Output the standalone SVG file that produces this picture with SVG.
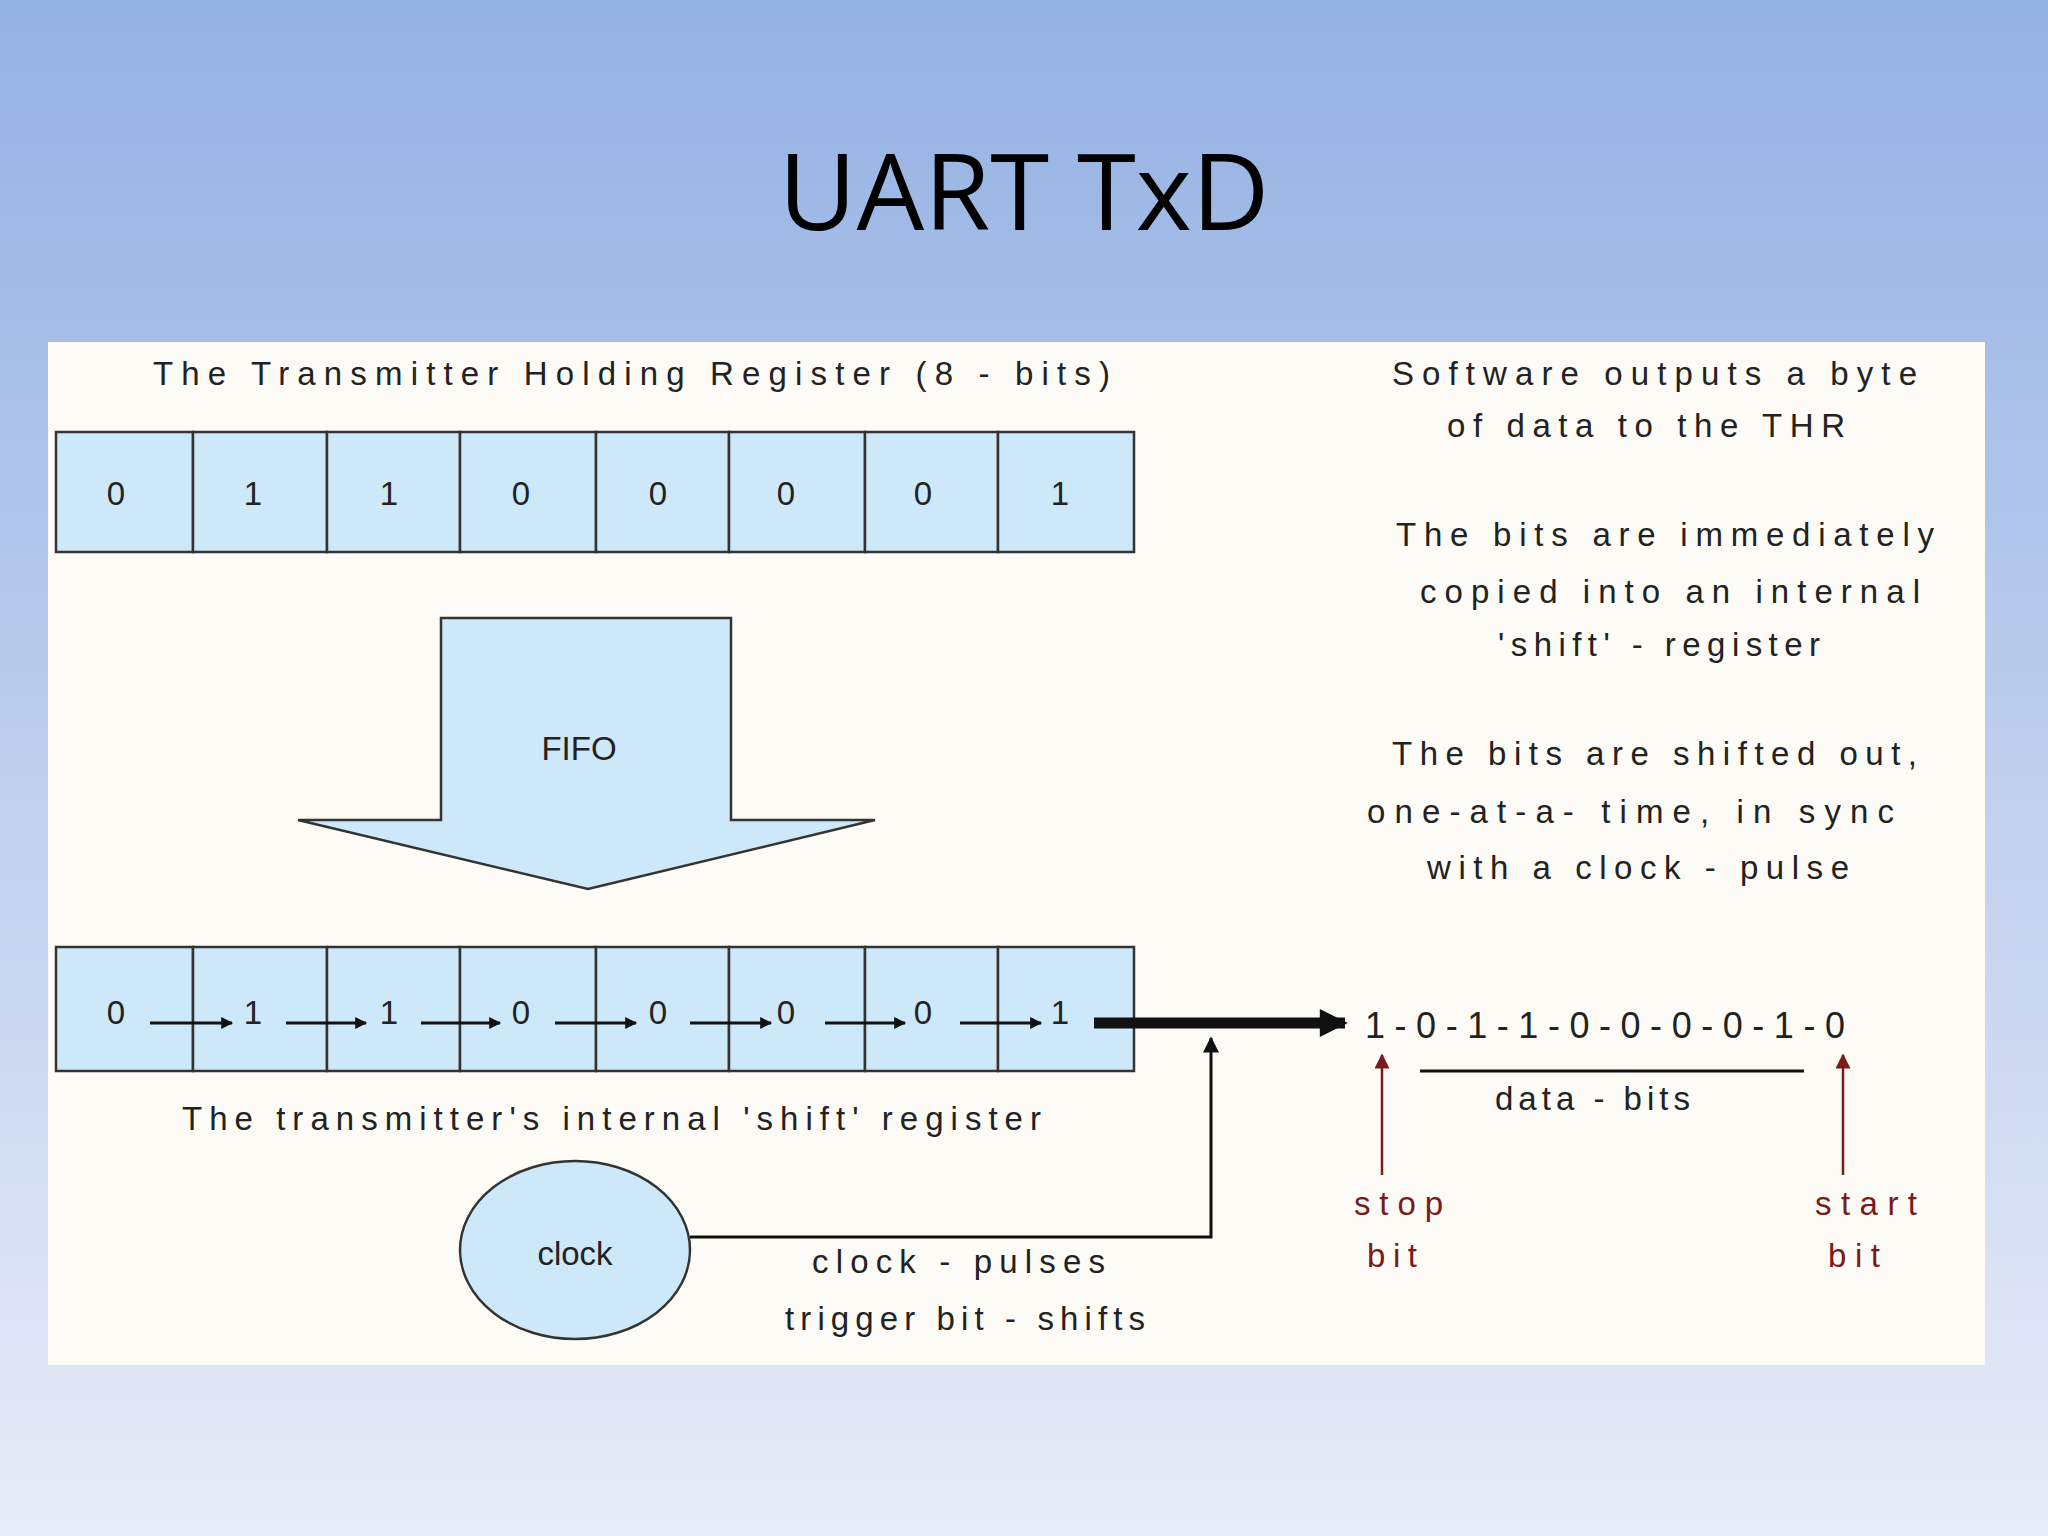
<svg xmlns="http://www.w3.org/2000/svg" width="2048" height="1536" viewBox="0 0 2048 1536">
<defs>
<linearGradient id="bg" x1="0" y1="0" x2="0" y2="1"><stop offset="0" stop-color="#94b1e3"/><stop offset="1" stop-color="#e8ecf8"/></linearGradient>
<marker id="ahs" viewBox="0 0 10 10" refX="9" refY="5" markerWidth="16" markerHeight="12" orient="auto" markerUnits="userSpaceOnUse"><path d="M0,0 L10,5 L0,10 z" fill="#111"/></marker>
<marker id="ahc" viewBox="0 0 10 10" refX="9" refY="5" markerWidth="22" markerHeight="16" orient="auto" markerUnits="userSpaceOnUse"><path d="M0,0 L10,5 L0,10 z" fill="#111"/></marker>
<marker id="ahb" viewBox="0 0 10 10" refX="9" refY="5" markerWidth="30" markerHeight="28" orient="auto" markerUnits="userSpaceOnUse"><path d="M0,0 L10,5 L0,10 z" fill="#111"/></marker>
<marker id="ahr" viewBox="0 0 10 10" refX="9" refY="5" markerWidth="20" markerHeight="15" orient="auto" markerUnits="userSpaceOnUse"><path d="M0,0 L10,5 L0,10 z" fill="#7a1a1a"/></marker>
</defs>
<style>
.c{fill:#cde8f8;stroke:#333;stroke-width:2.5}
.t{font-family:"Liberation Sans",Arial,sans-serif;font-size:33px;fill:#222}
.m{text-anchor:middle}
.ln{stroke:#111;stroke-width:3;fill:none}
.rd{stroke:#7a1a1a;stroke-width:2.5;fill:none;marker-end:url(#ahr)}
</style>
<rect width="2048" height="1536" fill="url(#bg)"/>
<text x="1024" y="230" text-anchor="middle" font-family="Open Sans,Liberation Sans,sans-serif" font-size="107" fill="#000">UART TxD</text>
<rect x="48" y="342" width="1937" height="1023" fill="#fdfbf5"/>
<g id="thr">
<rect class="c" x="56" y="432" width="137" height="120"/><rect class="c" x="193" y="432" width="134" height="120"/><rect class="c" x="327" y="432" width="133" height="120"/><rect class="c" x="460" y="432" width="136" height="120"/><rect class="c" x="596" y="432" width="133" height="120"/><rect class="c" x="729" y="432" width="136" height="120"/><rect class="c" x="865" y="432" width="133" height="120"/><rect class="c" x="998" y="432" width="136" height="120"/>
<g class="t m"><text x="116" y="505">0</text><text x="253" y="505">1</text><text x="389" y="505">1</text><text x="521" y="505">0</text><text x="658" y="505">0</text><text x="786" y="505">0</text><text x="923" y="505">0</text><text x="1060" y="505">1</text></g>
<text class="t" x="153" y="385" textLength="957" lengthAdjust="spacing">The Transmitter Holding Register (8   - bits)</text>
</g>
<g id="fifo">
<polygon points="441,618 731,618 731,820 875,820 588,889 298,820 441,820" fill="#cde8f8" stroke="#333" stroke-width="2.5"/>
<text class="t m" x="579" y="760">FIFO</text>
</g>
<g id="shift">
<rect class="c" x="56" y="947" width="137" height="124"/><rect class="c" x="193" y="947" width="134" height="124"/><rect class="c" x="327" y="947" width="133" height="124"/><rect class="c" x="460" y="947" width="136" height="124"/><rect class="c" x="596" y="947" width="133" height="124"/><rect class="c" x="729" y="947" width="136" height="124"/><rect class="c" x="865" y="947" width="133" height="124"/><rect class="c" x="998" y="947" width="136" height="124"/>
<g class="t m"><text x="116" y="1024">0</text><text x="253" y="1024">1</text><text x="389" y="1024">1</text><text x="521" y="1024">0</text><text x="658" y="1024">0</text><text x="786" y="1024">0</text><text x="923" y="1024">0</text><text x="1060" y="1024">1</text></g>
<text class="t" x="182" y="1130" textLength="859" lengthAdjust="spacing">The transmitter's internal 'shift' register</text>
</g>
<g id="clock">
<ellipse cx="575" cy="1250" rx="115" ry="89" fill="#cde8f8" stroke="#333" stroke-width="2.5"/>
<text class="t m" x="575" y="1265">clock</text>
</g>
<g id="connectors">
<g class="ln" marker-end="url(#ahs)">
<line x1="150" y1="1023" x2="232" y2="1023"/><line x1="286" y1="1023" x2="366" y2="1023"/><line x1="421" y1="1023" x2="500" y2="1023"/><line x1="555" y1="1023" x2="636" y2="1023"/><line x1="690" y1="1023" x2="771" y2="1023"/><line x1="825" y1="1023" x2="905" y2="1023"/><line x1="960" y1="1023" x2="1041" y2="1023"/>
</g>
<line x1="1094" y1="1023" x2="1345" y2="1023" stroke="#111" stroke-width="11" marker-end="url(#ahb)"/>
<polyline class="ln" points="690,1237 1211,1237 1211,1038" stroke-width="4" marker-end="url(#ahc)"/>
<line x1="1420" y1="1071" x2="1804" y2="1071" stroke="#111" stroke-width="3"/>
<line class="rd" x1="1382" y1="1175" x2="1382" y2="1055"/>
<line class="rd" x1="1843" y1="1175" x2="1843" y2="1055"/>
</g>
<g id="labels" class="t">
<text x="812" y="1273" textLength="293" lengthAdjust="spacing">clock - pulses</text>
<text x="785" y="1330" textLength="360" lengthAdjust="spacing">trigger bit - shifts</text>
<text x="1365" y="1038" textLength="480" lengthAdjust="spacing" font-size="36">1-0-1-1-0-0-0-0-1-0</text>
<text x="1495" y="1110" textLength="195" lengthAdjust="spacing">data - bits</text>
<text x="1354" y="1215" textLength="89" lengthAdjust="spacing" fill="#7a1a1a">stop</text>
<text x="1367" y="1267" textLength="50" lengthAdjust="spacing" fill="#7a1a1a">bit</text>
<text x="1815" y="1215" textLength="102" lengthAdjust="spacing" fill="#7a1a1a">start</text>
<text x="1828" y="1267" textLength="52" lengthAdjust="spacing" fill="#7a1a1a">bit</text>
<text x="1392" y="385" textLength="525" lengthAdjust="spacing">Software outputs a byte</text>
<text x="1447" y="437" textLength="398" lengthAdjust="spacing">of data to the THR</text>
<text x="1396" y="546" textLength="538" lengthAdjust="spacing">The bits are immediately</text>
<text x="1420" y="603" textLength="500" lengthAdjust="spacing">copied into an internal</text>
<text x="1498" y="656" textLength="322" lengthAdjust="spacing">'shift' - register</text>
<text x="1392" y="765" textLength="525" lengthAdjust="spacing">The bits are shifted out,</text>
<text x="1367" y="823" textLength="527" lengthAdjust="spacing">one-at-a- time, in sync</text>
<text x="1427" y="879" textLength="422" lengthAdjust="spacing">with a clock - pulse</text>
</g>
</svg>
